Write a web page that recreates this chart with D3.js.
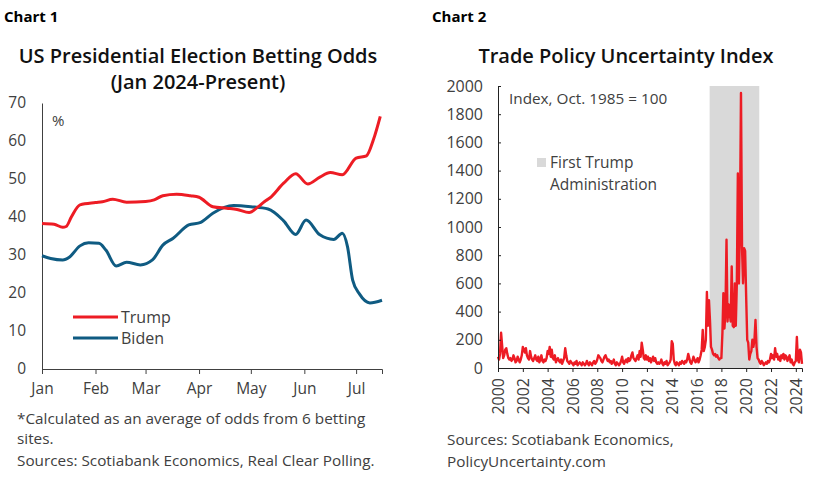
<!DOCTYPE html>
<html>
<head>
<meta charset="utf-8">
<script src="https://cdn.jsdelivr.net/npm/d3@7"></script>
<style>
  body { margin: 0; background: #fff; }
  svg { display: block; font-family: 'Open Sans', sans-serif; }
  .tick text { fill: #404040; }
</style>
</head>
<body>
<svg id="chart" width="828" height="483"></svg>
<script>
// chart 1 data: betting odds (%)
const trumpDates = ['2024-01-01','2024-01-08','2024-01-13','2024-01-15','2024-01-18','2024-01-23','2024-02-01','2024-02-05','2024-02-11','2024-02-19','2024-03-01','2024-03-06','2024-03-11','2024-03-19','2024-03-27','2024-04-01','2024-04-09','2024-04-17','2024-04-23','2024-04-30','2024-05-05','2024-05-09','2024-05-12','2024-05-20','2024-05-27','2024-06-03','2024-06-10','2024-06-16','2024-06-23','2024-07-01','2024-07-07','2024-07-11','2024-07-15']
const trumpOdds = [38.3,38.1,37.3,37.5,40,43.2,43.8,44,44.7,43.9,44.1,44.5,45.6,46,45.6,45.2,42.7,42.3,42,41.2,42.6,44.1,45,48.9,51.4,48.7,50.5,51.7,51.1,55.5,56.1,60.3,66.5]
const bidenDates = ['2024-01-01','2024-01-06','2024-01-13','2024-01-17','2024-01-23','2024-01-28','2024-02-03','2024-02-07','2024-02-13','2024-02-19','2024-02-27','2024-03-05','2024-03-11','2024-03-17','2024-03-26','2024-04-02','2024-04-09','2024-04-21','2024-05-01','2024-05-11','2024-05-20','2024-05-27','2024-06-02','2024-06-10','2024-06-18','2024-06-23','2024-06-26','2024-06-29','2024-07-03','2024-07-09','2024-07-16']
const bidenOdds = [29.8,29.1,28.7,29.5,32.4,33.2,33.1,31.3,27.1,28.1,27.4,28.7,32.6,34.4,37.9,38.6,41,43,42.7,42.1,39,35.4,39.2,35.3,34.1,35.7,32.2,23.4,19.7,17.4,18.1]
const oddsTicks = [0,10,20,30,40,50,60,70]
const monthTicks = ['2024-01-01','2024-02-01','2024-03-01','2024-04-01','2024-05-01','2024-06-01','2024-07-01']

// chart 2 data: trade policy uncertainty, monthly from Jan 2000
const tpuStart = '2000-01-01'
const tpuValues = [
  80,60,100,250,160,70,90,130,140,100,70,60,      // 2000
  70,50,60,90,70,40,50,80,60,40,60,90,            // 2001
  150,130,110,140,90,70,60,120,80,60,50,70,       // 2002
  90,60,50,80,40,60,90,50,40,60,50,70,            // 2003
  120,100,150,80,130,70,60,90,40,60,70,50,        // 2004
  40,60,30,50,70,140,90,50,40,30,50,40,           // 2005
  30,20,40,30,50,20,30,40,30,20,40,30,            // 2006
  20,30,50,30,20,40,30,20,40,50,30,40,            // 2007
  60,90,80,70,50,40,60,80,90,70,50,60,            // 2008
  40,50,30,40,60,30,20,40,30,20,30,50,            // 2009
  80,40,30,50,60,40,70,50,60,90,110,70,           // 2010
  60,50,70,90,60,120,80,180,130,70,60,90,         // 2011
  60,80,50,70,40,60,80,50,70,40,30,40,            // 2012
  30,40,60,30,20,40,30,50,20,30,40,60,            // 2013
  190,170,60,30,20,40,30,20,40,30,50,40,          // 2014
  30,50,40,60,100,70,40,30,50,80,60,40,           // 2015
  50,70,40,60,90,130,270,120,150,200,540,300,     // 2016
  480,330,150,130,100,90,100,80,90,70,60,70,      // 2017
  70,250,530,280,400,910,330,450,400,330,720,300, // 2018
  290,600,300,600,1380,600,1000,1950,850,600,850,830, // 2019
  500,200,180,60,100,120,200,150,200,340,150,70,  // 2020
  60,40,30,50,40,20,30,40,30,50,40,60,            // 2021
  100,70,90,60,140,80,100,60,80,50,90,70,         // 2022
  100,60,90,80,50,70,90,40,60,30,20,40,           // 2023
  50,220,60,40,130,110,30                          // 2024
]
const tpuTicks = [0,200,400,600,800,1000,1200,1400,1600,1800,2000]
const yearTicks = [2000,2002,2004,2006,2008,2010,2012,2014,2016,2018,2020,2022,2024]
const adminStart = '2017-01-20'
const adminEnd = '2021-01-20'

const RED = '#ED1C24'
const BLUE = '#0F5B82'
const AXIS = '#404040'
const FONT = 'Open Sans'

const svg = d3.select('#chart')
const parse = d3.timeParse('%Y-%m-%d')

// headings
svg.append('text').attr('x', 4).attr('y', 22).attr('font-size', 15).attr('font-weight', 700).text('Chart 1')
svg.append('text').attr('x', 432).attr('y', 22).attr('font-size', 15).attr('font-weight', 700).text('Chart 2')

const title = (x, y, t) => svg.append('text').attr('x', x).attr('y', y).attr('text-anchor', 'middle')
  .attr('font-size', 20).attr('font-weight', 600).attr('fill', '#111').text(t)
title(198, 63, 'US Presidential Election Betting Odds')
title(198, 89, '(Jan 2024-Present)')
title(626, 63, 'Trade Policy Uncertainty Index')

// ---- chart 1 ----
const x1 = d3.scaleTime().domain([parse('2024-01-01'), parse('2024-07-16')]).range([42, 382])
const y1 = d3.scaleLinear().domain([0, 70]).range([369, 103])

const g1 = svg.append('g')

const xAxis1 = g1.append('g').attr('transform', 'translate(0,369)')
  .call(d3.axisBottom(x1).tickValues(monthTicks.map(parse)).tickFormat(d3.timeFormat('%b')).tickSize(5).tickPadding(9))
const yAxis1 = g1.append('g').attr('transform', 'translate(42,0)')
  .call(d3.axisLeft(y1).tickValues(oddsTicks).tickSize(0).tickPadding(16))

;[xAxis1, yAxis1].forEach((a) => {
  a.select('.domain').attr('stroke', AXIS)
  a.selectAll('.tick line').attr('stroke', AXIS)
  a.selectAll('.tick text').attr('font-size', 15.5).attr('font-family', FONT)
})

g1.append('text').attr('x', 52).attr('y', 126).attr('font-size', 15).attr('fill', AXIS).text('%')

const line1 = d3.line().x((d) => x1(d[0])).y((d) => y1(d[1])).curve(d3.curveMonotoneX)

g1.append('path')
  .datum(bidenDates.map((d, i) => [parse(d), bidenOdds[i]]))
  .attr('fill', 'none').attr('stroke', BLUE).attr('stroke-width', 3).attr('d', line1)
g1.append('path')
  .datum(trumpDates.map((d, i) => [parse(d), trumpOdds[i]]))
  .attr('fill', 'none').attr('stroke', RED).attr('stroke-width', 3).attr('d', line1)

const legend1 = [['Trump', RED, 317], ['Biden', BLUE, 338]]
legend1.forEach(([name, color, y]) => {
  g1.append('line').attr('x1', 73).attr('x2', 118).attr('y1', y).attr('y2', y)
    .attr('stroke', color).attr('stroke-width', 3)
  g1.append('text').attr('x', 121).attr('y', y + 6).attr('font-size', 16).attr('fill', AXIS).text(name)
})

const notes1 = ['*Calculated as an average of odds from 6 betting', 'sites.', 'Sources: Scotiabank Economics, Real Clear Polling.']
notes1.forEach((t, i) => {
  svg.append('text').attr('x', 17).attr('y', [424, 444, 466][i]).attr('font-size', 15.3).attr('fill', AXIS).text(t)
})

// ---- chart 2 ----
const start2 = parse(tpuStart)
const tpu = tpuValues.map((v, i) => [d3.timeMonth.offset(start2, i), v])
const x2 = d3.scaleTime().domain([start2, parse('2024-07-01')]).range([498, 802])
const y2 = d3.scaleLinear().domain([0, 2000]).range([368, 86])

const g2 = svg.append('g')

g2.append('rect')
  .attr('x', x2(parse(adminStart))).attr('y', y2(2000))
  .attr('width', x2(parse(adminEnd)) - x2(parse(adminStart)))
  .attr('height', y2(0) - y2(2000))
  .attr('fill', '#D9D9D9')

const line2 = d3.line().x((d) => x2(d[0])).y((d) => y2(d[1]))
g2.append('path').datum(tpu)
  .attr('fill', 'none').attr('stroke', RED).attr('stroke-width', 2.4).attr('stroke-linejoin', 'round').attr('d', line2)

const xAxis2 = g2.append('g').attr('transform', 'translate(0,368)')
  .call(d3.axisBottom(x2).tickValues(yearTicks.map((y) => new Date(y, 0, 1))).tickFormat(d3.timeFormat('%Y')).tickSize(4))
xAxis2.selectAll('.tick text')
  .attr('transform', 'rotate(-90)').attr('text-anchor', 'end')
  .attr('x', -10).attr('y', 0).attr('dy', '0.35em')

const yAxis2 = g2.append('g').attr('transform', 'translate(498,0)')
  .call(d3.axisLeft(y2).tickValues(tpuTicks).tickFormat(d3.format('d')).tickSize(-3).tickPadding(15))

;[xAxis2, yAxis2].forEach((a) => {
  a.select('.domain').attr('stroke', '#222')
  a.selectAll('.tick line').attr('stroke', '#222')
  a.selectAll('.tick text').attr('font-size', 16).attr('font-family', FONT)
})

g2.append('text').attr('x', 509).attr('y', 104).attr('font-size', 15.3).attr('fill', AXIS).text('Index, Oct. 1985 = 100')
g2.append('rect').attr('x', 537).attr('y', 158).attr('width', 9).attr('height', 9).attr('fill', '#D9D9D9')
g2.append('text').attr('x', 550).attr('y', 168).attr('font-size', 15.5).attr('fill', AXIS).text('First Trump')
g2.append('text').attr('x', 550).attr('y', 190).attr('font-size', 15.5).attr('fill', AXIS).text('Administration')

const notes2 = ['Sources: Scotiabank Economics,', 'PolicyUncertainty.com']
notes2.forEach((t, i) => {
  svg.append('text').attr('x', 447).attr('y', [445, 467][i]).attr('font-size', 15.3).attr('fill', AXIS).text(t)
})
</script>
</body>
</html>
